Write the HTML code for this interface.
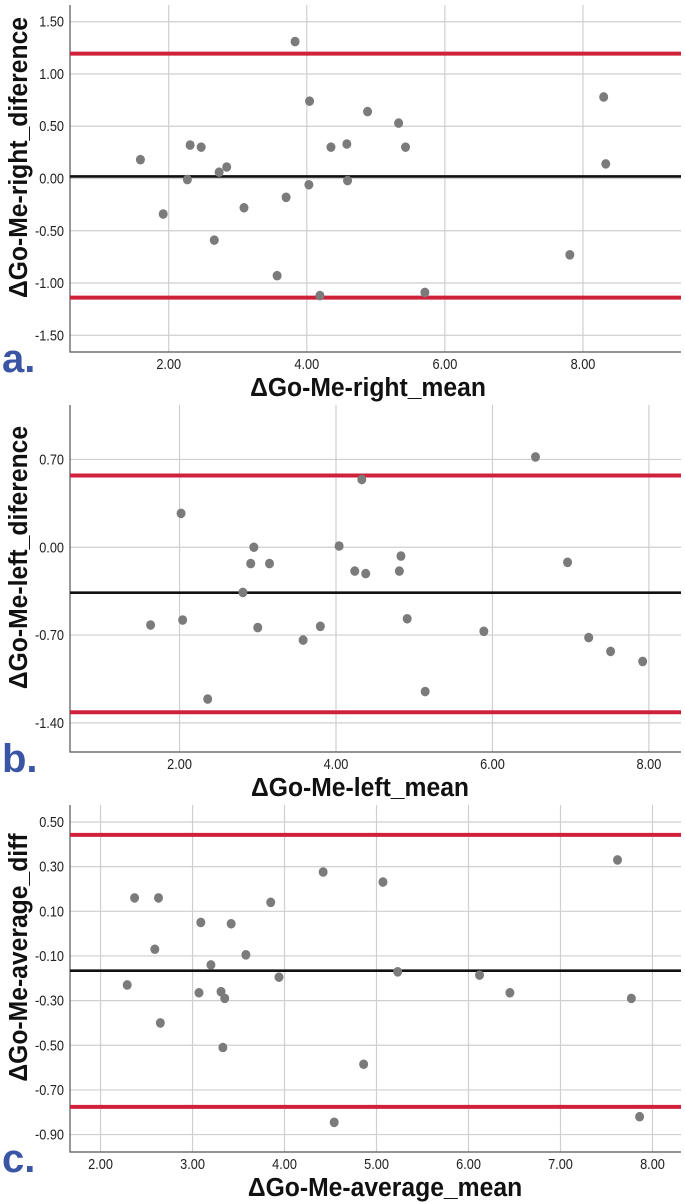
<!DOCTYPE html>
<html><head><meta charset="utf-8"><style>
html,body{margin:0;padding:0;background:#fff;}
svg{display:block;}
text{font-family:"Liberation Sans",sans-serif;}
</style></head><body>
<svg id="chart" width="685" height="1202" viewBox="0 0 685 1202" xmlns="http://www.w3.org/2000/svg"></svg>
<script>
// Panel a data
const aX = [1.59,1.92,2.27,2.31,2.47,2.66,2.73,2.84,3.09,3.57,3.70,3.83,4.03,4.04,4.19,4.35,4.58,4.59,4.88,5.33,5.43,5.71,7.81,8.30,8.33];
const aY = [0.18,-0.34,-0.01,0.32,0.30,-0.59,0.06,0.11,-0.28,-0.93,-0.18,1.31,-0.06,0.74,-1.12,0.30,0.33,-0.02,0.64,0.53,0.30,-1.09,-0.73,0.78,0.14];
const aXTicks = [2,4,6,8];
const aYTicks = [1.5,1.0,0.5,0,-0.5,-1.0,-1.5];
const aLines = [1.195,0.02,-1.14];
// Panel b data
const bX = [1.63,2.02,2.04,2.36,2.81,2.91,2.95,3.00,3.15,3.58,3.80,4.04,4.24,4.33,4.38,4.81,4.83,4.91,5.14,5.89,6.55,6.96,7.23,7.51,7.92];
const bY = [-0.62,0.27,-0.58,-1.21,-0.36,-0.13,0.00,-0.64,-0.13,-0.74,-0.63,0.01,-0.19,0.54,-0.21,-0.19,-0.07,-0.57,-1.15,-0.67,0.72,-0.12,-0.72,-0.83,-0.91];
const bXTicks = [2,4,6,8];
const bYTicks = [0.7,0,-0.7,-1.4];
const bLines = [0.572,-0.362,-1.315];
// Panel c data
const cX = [2.29,2.37,2.59,2.63,2.65,3.07,3.09,3.20,3.31,3.33,3.35,3.42,3.58,3.85,3.94,4.42,4.54,4.86,5.07,5.23,6.12,6.45,7.62,7.77,7.86];
const cY = [-0.23,0.16,-0.07,0.16,-0.40,-0.265,0.05,-0.14,-0.26,-0.51,-0.29,0.044,-0.095,0.14,-0.195,0.276,-0.845,-0.585,0.231,-0.171,-0.186,-0.265,0.33,-0.29,-0.82];
const cXTicks = [2,3,4,5,6,7,8];
const cYTicks = [0.5,0.3,0.1,-0.1,-0.3,-0.5,-0.7,-0.9];
const cLines = [0.442,-0.166,-0.776];

const NS="http://www.w3.org/2000/svg";
const svg=document.getElementById('chart');
function mk(tag,attrs,parent){const e=document.createElementNS(NS,tag);for(const k in attrs)e.setAttribute(k,attrs[k]);(parent||svg).appendChild(e);return e;}

function panel(cfg){
  const g=mk('g',{});
  
  
  const L=70,R=681,T=cfg.top,B=cfg.top+347;
  const sx=v=>L+(v-cfg.xmin)/(cfg.xmax-cfg.xmin)*(R-L);
  const sy=v=>B-(v-cfg.ymin)/(cfg.ymax-cfg.ymin)*(B-T);
  cfg.yt.forEach(t=>{
    const l=mk('line',{x1:L,x2:R,y1:sy(t),y2:sy(t),stroke:'#cfcfcf','stroke-width':1.2},g);
    
    
    const tx=mk('text',{x:0,y:0,'text-anchor':'end','font-size':15,fill:'#222',transform:`translate(64,${sy(t)+5}) scale(0.85,1)`},g);
    tx.textContent=t.toFixed(2);
    
    
  });
  cfg.xt.forEach(t=>{
    const l=mk('line',{x1:sx(t),x2:sx(t),y1:T,y2:B,stroke:'#cfcfcf','stroke-width':1.2},g);
    
    
    const tx=mk('text',{x:0,y:0,'text-anchor':'middle','font-size':15,fill:'#222',transform:`translate(${sx(t)},${B+17}) scale(0.85,1)`},g);
    tx.textContent=t.toFixed(2);
    
    
  });
  const ax=mk('path',{d:`M${L},${T} V${B} H${R}`,fill:'none',stroke:'#555','stroke-width':1.2},g);
  
  
  const names=['upper-limit-line','mean-difference-line','lower-limit-line'];
  cfg.lines.forEach((v,i)=>{
    const l=mk('line',{x1:L,x2:R,y1:sy(v),y2:sy(v),stroke:i==1?'#111':'#d0213b','stroke-width':i==1?2.6:4},g);
    
    
  });
  cfg.x.forEach((v,i)=>{
    const c=mk('ellipse',{cx:sx(v),cy:sy(cfg.y[i]),rx:4.5,ry:4.8,fill:'#7b7b7b'},g);
    
    
  });
  const xt=mk('text',{x:0,y:0,'text-anchor':'middle','font-size':26,'font-weight':'bold',fill:'#111',transform:`translate(${cfg.xtx},${B+44}) scale(0.95,1)`},g);
  xt.textContent=cfg.xtitle;
  
  
  const cy=(T+B)/2-21;
  const yt=mk('text',{x:0,y:0,'text-anchor':'middle','font-size':26,'font-weight':'bold',fill:'#111',transform:`translate(27,${cy}) rotate(-90) scale(${cfg.ysc},1)`},g);
  yt.textContent=cfg.ytitle;
  
  
  const lt=mk('text',{x:2,y:B+20,'font-size':40,'font-weight':'bold',fill:'#3b55a5'},g);
  lt.textContent=cfg.letter;
  
  
}
panel({id:'a',top:5,xmin:0.57,xmax:9.42,ymin:-1.66,ymax:1.66,x:aX,y:aY,xt:aXTicks,yt:aYTicks,lines:aLines,xtitle:'ΔGo-Me-right_mean',ytitle:'ΔGo-Me-right_diference',ysc:0.95,xtx:368,letter:'a.'});
panel({id:'b',top:405,xmin:0.60,xmax:8.41,ymin:-1.632,ymax:1.134,x:bX,y:bY,xt:bXTicks,yt:bYTicks,lines:bLines,xtitle:'ΔGo-Me-left_mean',ytitle:'ΔGo-Me-left_diference',ysc:0.95,xtx:360,letter:'b.'});
panel({id:'c',top:805,xmin:1.668,xmax:8.31,ymin:-0.978,ymax:0.576,x:cX,y:cY,xt:cXTicks,yt:cYTicks,lines:cLines,xtitle:'ΔGo-Me-average_mean',ytitle:'ΔGo-Me-average_diff',ysc:0.95,xtx:385,letter:'c.'});
</script>
</body></html>
